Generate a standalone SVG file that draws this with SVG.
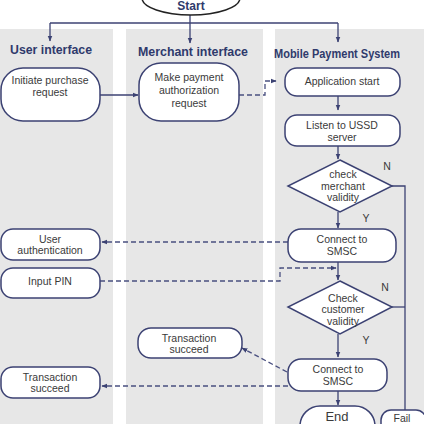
<svg xmlns="http://www.w3.org/2000/svg" width="424" height="424" viewBox="0 0 424 424">
<defs>
<marker id="ah" viewBox="0 0 10 10" refX="9" refY="5" markerWidth="6" markerHeight="6" orient="auto" markerUnits="userSpaceOnUse">
<path d="M0,1 L10,5 L0,9 Z" fill="#3c4273"/>
</marker>
<style>
.lane{fill:#e7e7e7}
.box{fill:#fff;stroke:#3c4273;stroke-width:1.5}
.t{font-family:"Liberation Sans",Arial,sans-serif;font-size:10.5px;fill:#3a3a3a;text-anchor:middle}
.h{font-family:"Liberation Sans",Arial,sans-serif;font-size:12px;font-weight:bold;fill:#2f3a6c}
.ln{fill:none;stroke:#3c4273;stroke-width:1.3}
.dl{fill:none;stroke:#4a5080;stroke-width:1.3;stroke-dasharray:5,3}
</style>
</defs>
<rect width="424" height="424" fill="#fff"/>
<rect class="lane" x="0" y="29" width="113" height="395"/>
<rect class="lane" x="126" y="29" width="137" height="395"/>
<rect class="lane" x="275" y="29" width="149" height="395"/>
<text class="h" x="10" y="54" textLength="82" lengthAdjust="spacingAndGlyphs">User interface</text>
<text class="h" x="138" y="56" textLength="110" lengthAdjust="spacingAndGlyphs">Merchant interface</text>
<text class="h" x="274" y="58" textLength="126" lengthAdjust="spacingAndGlyphs">Mobile Payment System</text>

<g id="connectors">
<path class="ln" d="M190,15 V23"/>
<path class="ln" d="M50,23 H338"/>
<path class="ln" d="M50,23 V41" marker-end="url(#ah)"/>
<path class="ln" d="M190,23 V43" marker-end="url(#ah)"/>
<path class="ln" d="M338,23 V42" marker-end="url(#ah)"/>
<path class="ln" d="M100,95 H138" marker-end="url(#ah)"/>
<path class="dl" d="M239,95 H265 V81 H276" marker-end="url(#ah)"/>
<path class="ln" d="M338,96 V110" marker-end="url(#ah)"/>
<path class="ln" d="M338,146 V159" marker-end="url(#ah)"/>
<path class="ln" d="M338,212 V228" marker-end="url(#ah)"/>
<path class="ln" d="M392,186 H405 V410"/>
<path class="ln" d="M392,307 H405"/>
<path class="dl" d="M288,242 H102" marker-end="url(#ah)"/>
<path class="dl" d="M100,281 H280 V268 H336" marker-end="url(#ah)"/>
<path class="ln" d="M338,262 V280" marker-end="url(#ah)"/>
<path class="ln" d="M338,334 V357" marker-end="url(#ah)"/>
<path class="dl" d="M287,372 L242,348" marker-end="url(#ah)"/>
<path class="dl" d="M288,386 H102" marker-end="url(#ah)"/>
<path class="ln" d="M338,391 V405" marker-end="url(#ah)"/>
</g>

<g id="start">
<ellipse cx="191" cy="-2" rx="49" ry="17" fill="#fff" stroke="#222" stroke-width="1.5"/>
<text x="191" y="10" font-family="Liberation Sans, Arial, sans-serif" font-size="12" font-weight="bold" fill="#2f3a6c" text-anchor="middle">Start</text>
</g>

<g id="initiate">
<rect class="box" x="1" y="68" width="99" height="53" rx="22"/>
<text class="t" x="50" y="84">Initiate purchase</text>
<text class="t" x="50" y="96">request</text>
</g>
<g id="make_payment">
<rect class="box" x="139" y="63" width="100" height="58" rx="22"/>
<text class="t" x="189" y="81">Make payment</text>
<text class="t" x="189" y="94">authorization</text>
<text class="t" x="189" y="107">request</text>
</g>
<g id="app_start">
<rect class="box" x="285" y="68" width="115" height="28" rx="12"/>
<text class="t" x="342" y="85">Application start</text>
</g>
<g id="listen">
<rect class="box" x="285" y="115" width="115" height="31" rx="12"/>
<text class="t" x="342" y="129">Listen to USSD</text>
<text class="t" x="342" y="141">server</text>
</g>
<g id="check_merchant">
<polygon class="box" points="340,160 392,186 340,212 288,186"/>
<text class="t" x="343" y="178">check</text>
<text class="t" x="343" y="190">merchant</text>
<text class="t" x="343" y="201">validity</text>
</g>
<text class="t" x="387" y="170" font-size="12">N</text>
<text class="t" x="366" y="222" font-size="12">Y</text>
<g id="smsc1">
<rect class="box" x="288" y="229" width="108" height="33" rx="13"/>
<text class="t" x="342" y="243">Connect to</text>
<text class="t" x="342" y="255">SMSC</text>
</g>
<g id="user_auth">
<rect class="box" x="1" y="229" width="99" height="31" rx="12"/>
<text class="t" x="50" y="243">User</text>
<text class="t" x="50" y="254">authentication</text>
</g>
<g id="input_pin">
<rect class="box" x="1" y="268" width="99" height="30" rx="12"/>
<text class="t" x="50" y="285">Input PIN</text>
</g>
<g id="check_customer">
<polygon class="box" points="340,281 392,307 340,334 288,307"/>
<text class="t" x="343" y="302">Check</text>
<text class="t" x="343" y="313">customer</text>
<text class="t" x="343" y="325">validity</text>
</g>
<text class="t" x="385" y="291" font-size="12">N</text>
<text class="t" x="366" y="344" font-size="12">Y</text>
<g id="smsc2">
<rect class="box" x="288" y="359" width="99" height="32" rx="13"/>
<text class="t" x="338" y="373">Connect to</text>
<text class="t" x="338" y="385">SMSC</text>
</g>
<g id="trans_mid">
<rect class="box" x="138" y="328" width="104" height="30" rx="13"/>
<text class="t" x="189" y="342">Transaction</text>
<text class="t" x="189" y="353">succeed</text>
</g>
<g id="trans_left">
<rect class="box" x="1" y="367" width="99" height="31" rx="12"/>
<text class="t" x="50" y="381">Transaction</text>
<text class="t" x="50" y="392">succeed</text>
</g>
<g id="end">
<rect class="box" x="300" y="406" width="75" height="40" rx="20"/>
<text x="337" y="421" font-family="Liberation Sans, Arial, sans-serif" font-size="13" fill="#3a3a3a" text-anchor="middle">End</text>
</g>
<g id="fail">
<rect class="box" x="381" y="410" width="45" height="30" rx="10"/>
<text class="t" x="402" y="422">Fail</text>
</g>
</svg>
